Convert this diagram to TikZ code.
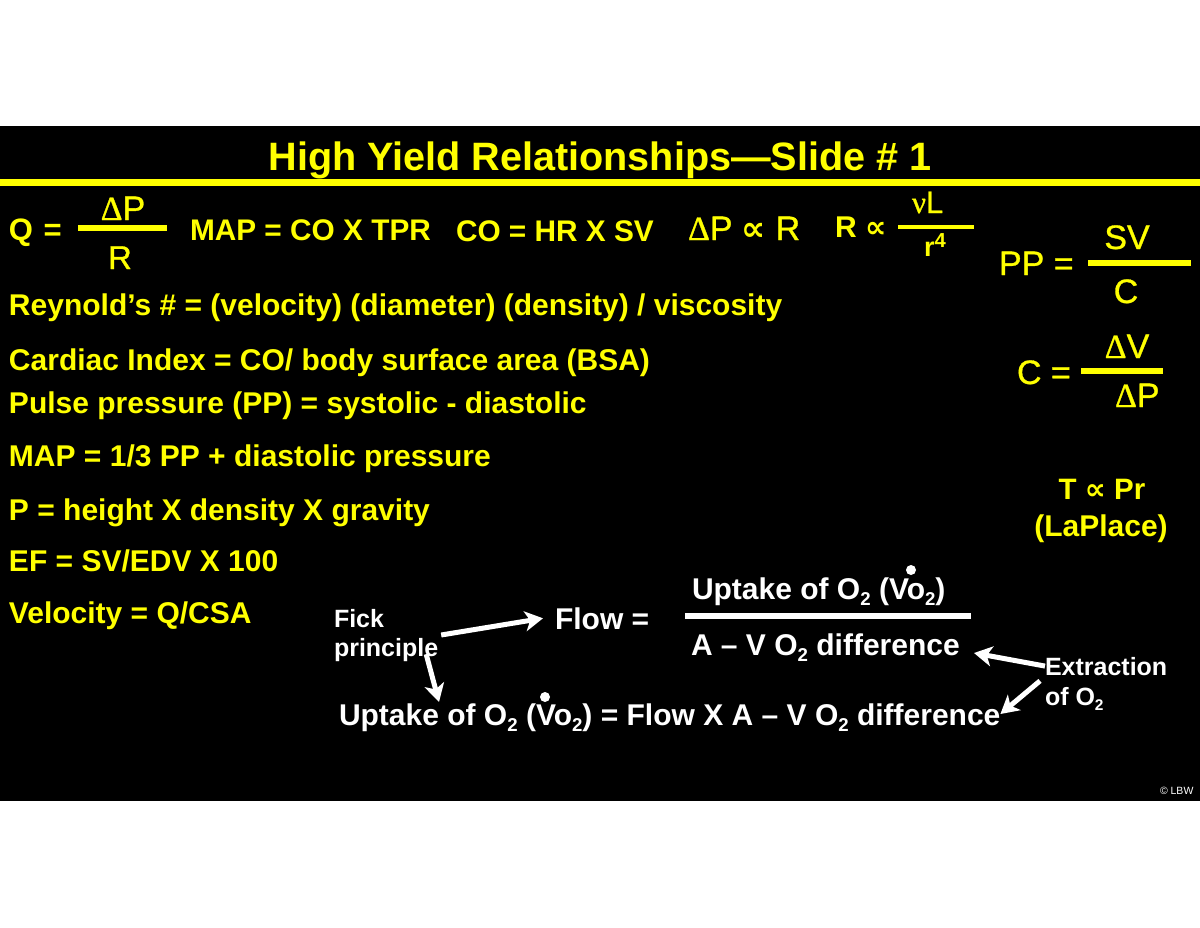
\documentclass[tikz,border=0pt]{standalone}
\usepackage{fontspec}
\setmainfont{Liberation Sans}
\newfontfamily\rgf{Liberation Sans}[FakeBold=0.9]
\newfontfamily\djf{DejaVu Sans}
\newfontfamily\serf{Liberation Serif}[FakeBold=0.9]
\usetikzlibrary{arrows.meta,calc}
\definecolor{yl}{RGB}{255,255,0}
\newcommand\fs[1]{\fontsize{#1}{#1}\selectfont\bfseries}
\newcommand\fr[1]{\fontsize{#1}{#1}\selectfont\rgf}
\newcommand\dlt{{\serf\char"0394}}
\newcommand\prp{{\djf\bfseries\char"221D}}
\newcommand\low[1]{\raisebox{-0.2em}{\scalebox{0.62}{#1}}}
\tikzset{
 x=1pt,y=-1pt,
 tx/.style={inner sep=0pt,outer sep=0pt,anchor=base west,text=yl},
 tc/.style={inner sep=0pt,outer sep=0pt,anchor=base,text=yl},
 wt/.style={inner sep=0pt,outer sep=0pt,anchor=base west,text=white},
 bar/.style={draw=yl,line width=6pt},
 wbar/.style={draw=white,line width=6pt},
 arr/.style={draw=white,line width=5pt,-{Stealth[length=18pt,width=20pt,inset=5pt]}},
}
\begin{document}
\begin{tikzpicture}
\useasboundingbox (0,0) rectangle (1200,927);
\fill[black] (0,126) rectangle (1200,801);
\fill[yl] (0,179) rectangle (1200,186);
\node[tc] (title) at (600,170) {\fs{39.6}High Yield Relationships—Slide \# 1};
\node[tx] (q) at (9,240) {\fs{31}Q\hspace{2pt} =};
\node[tc] (qn) at (123,220) {\fr{34}\dlt P};
\draw[bar] (78,228) -- (167,228);
\node[tc] (qd) at (120,269) {\fr{33}R};
\node[tx] (map) at (190,240) {\fs{29.8}MAP = CO X TPR};
\node[tx] (co) at (456,241) {\fs{29.8}CO = HR X SV};
\node[tx] (dp) at (688,240) {\fr{34}\dlt P \prp{} R};
\node[tx] (rp) at (835,237) {\fs{30}R \prp};
\node[tx] (nl) at (912,213) {\fr{31}{\serf\char"03BD}L};
\draw[draw=yl,line width=4pt] (898,227) -- (974,227);
\node[tx] (r4) at (924,256) {\fs{27}r\raisebox{0.3em}{\scalebox{0.75}{4}}};
\node[tx] (pp) at (999,275) {\fr{34}PP =};
\node[tc] (ppn) at (1127,249) {\fr{34}SV};
\draw[bar] (1088,263) -- (1191,263);
\node[tc] (ppd) at (1126,303) {\fr{34}C};
\node[tx] (c) at (1017,384) {\fr{34}C =};
\node[tc] (cn) at (1127,358) {\fr{34}\dlt V};
\draw[bar] (1081,371) -- (1163,371);
\node[tx] (cd) at (1115,407) {\fr{34}\dlt P};
\node[tx] (rey) at (9,315) {\fs{30}Reynold’s \# = (velocity) (diameter) (density) / viscosity};
\node[tx] (ci) at (9,370) {\fs{30}Cardiac Index = CO/ body surface area (BSA)};
\node[tx] (pul) at (9,413) {\fs{30}Pulse pressure (PP) = systolic - diastolic};
\node[tx] (mp2) at (9,466) {\fs{30}MAP = 1/3 PP + diastolic pressure};
\node[tx] (ph) at (9,520) {\fs{30}P = height X density X gravity};
\node[tx] (ef) at (9,571) {\fs{30}EF = SV/EDV X 100};
\node[tx] (vel) at (9,623) {\fs{30}Velocity = Q/CSA};
\node[tc] (t) at (1102,499) {\fs{29.5}T \prp{} Pr};
\node[tc] (lp) at (1101,536) {\fs{30}(LaPlace)};
\node[wt] (fick) at (334,627) {\fs{25}Fick};
\node[wt] (prin) at (334,656) {\fs{25}principle};
\node[wt] (flow) at (555,629) {\fs{30}Flow =};
\node[wt] (upt) at (692,599) {\fs{30}Uptake of O\low{2} (Vo\low{2})};
\fill[white] (911,570) circle (5);
\draw[wbar] (685,616) -- (971,616);
\node[wt] (av) at (691,655) {\fs{30}A – V O\low{2} difference};
\node[wt] (eq) at (339,725) {\fs{30}Uptake of O\low{2} (Vo\low{2}) = Flow X A – V O\low{2} difference};
\fill[white] (545,697) circle (5);
\node[wt] (ext) at (1045,675) {\fs{25}Extraction};
\node[wt] (oo) at (1045,705) {\fs{25}of O\low{2}};
\node[wt] (lbw) at (1160,794) {\fontsize{10.5}{10.5}\selectfont © LBW};
\draw[arr] ([shift={(3,-21)}]prin.base east) -- ([xshift=-12pt]flow.west);
\draw[arr] ([shift={(-12,-7)}]prin.south east) -- ([shift={(100,-23)}]eq.base west);
\draw[arr] (ext.west) -- ([shift={(283,-2)}]av.base west);
\draw[arr] ([shift={(-5,-6)}]oo.north west) -- ([yshift=11pt]eq.base east);
\end{tikzpicture}
\end{document}
